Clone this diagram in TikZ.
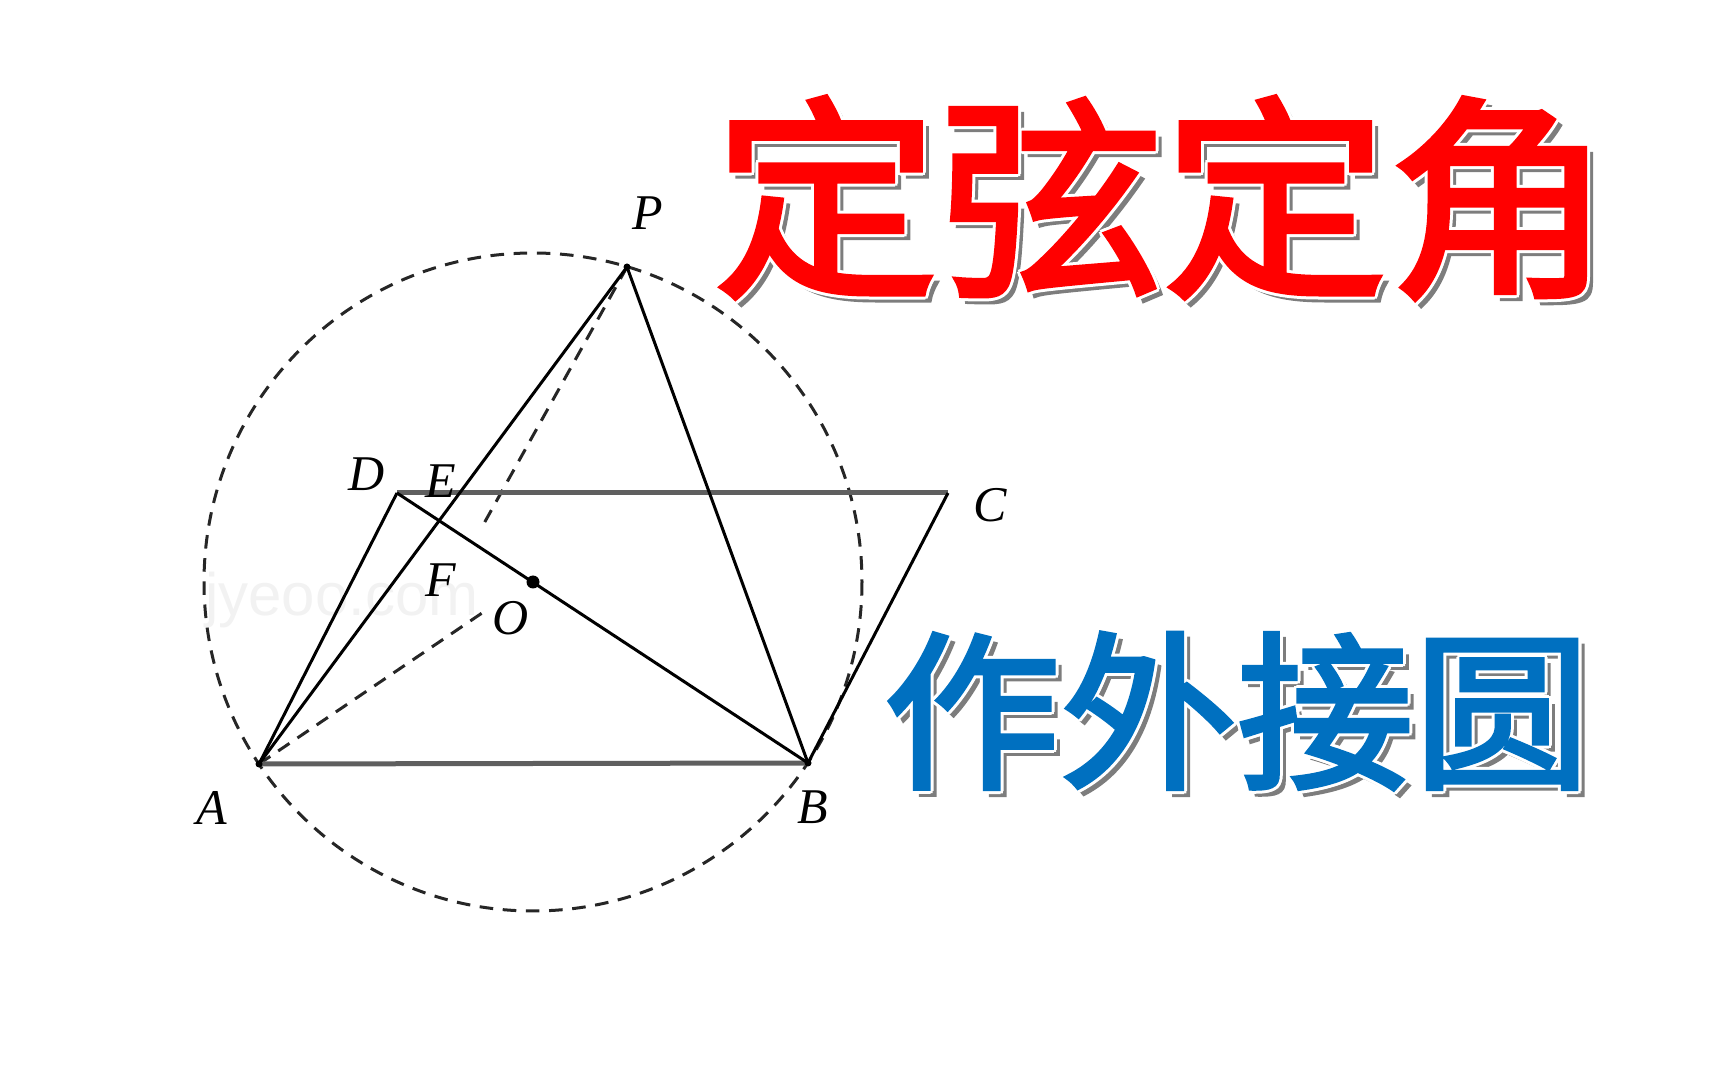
\documentclass[tikz,border=0pt]{standalone}
\usepackage{fontspec}
\setmainfont{Liberation Serif}
\setsansfont{Liberation Sans}
\newfontfamily\cjk{Noto Sans CJK SC}[FakeBold=2.5]

\definecolor{titlered}{RGB}{255,0,0}
\definecolor{titleblue}{RGB}{0,112,192}
\definecolor{shadowgray}{RGB}{125,125,125}
\definecolor{sidegray}{RGB}{95,95,95}

\tikzset{
  ptlabel/.style={font=\itshape\fontsize{12.5}{14}\selectfont, inner sep=0pt},
  seg/.style={line width=0.75pt, black},
  sideseg/.style={line width=1.25pt, sidegray},
  auxseg/.style={line width=0.75pt, black!85, dash pattern=on 3.4pt off 2.4pt},
  dotpt/.style={fill=black, draw=none},
  bigword/.style={font=\cjk\fontsize{#1}{#1}\selectfont, inner sep=0pt},
}
\newcommand{\widen}[1]{\scalebox{1.04}[1]{#1}}

\begin{document}
\begin{tikzpicture}[x=0.25pt,y=0.25pt,yscale=-1,xscale=1]
\useasboundingbox (0,0) rectangle (1728,1080);

% Points
\coordinate (A) at (259,764);
\coordinate (B) at (808,763);
\coordinate (C) at (948,493);
\coordinate (D) at (397,493);
\coordinate (P) at (627,267);
\coordinate (O) at (533,582);
\coordinate (a1) at (485,611);
\coordinate (p1) at (482,527);

% Watermark
\node [font=\sffamily\fontsize{15}{15}\selectfont, text=black!5, inner sep=0pt] (wm) at (342,600) {jyeoo.com};

% Circle
\draw [auxseg] (O) circle [radius=329];

% Dashed lines
\draw [auxseg] (A) -- (a1);
\draw [auxseg] (P) -- (p1);

% Straight Lines
\draw [sideseg] (A) -- (B);
\draw [sideseg] (D) -- (C);
\draw [seg] (A) -- (D);
\draw [seg] (B) -- (C);
\draw [seg] (A) -- (P);
\draw [seg] (P) -- (B);
\draw [seg] (D) -- (B);

% Dots
\fill [dotpt] (A) circle [radius=3.5];
\fill [dotpt] (B) circle [radius=3.5];
\fill [dotpt] (P) circle [radius=3.5];
\fill [dotpt] (O) circle [radius=6.5];

% Text Node
\node [ptlabel] (lP) at (648,213) {P};
\node [ptlabel] (lD) at (367,474) {D};
\node [ptlabel] (lE) at (441,481) {E};
\node [ptlabel] (lC) at (990,505) {C};
\node [ptlabel] (lF) at (441,580) {F};
\node [ptlabel] (lO) at (511,618) {O};
\node [ptlabel] (lA) at (212,808) {A};
\node [ptlabel] (lB) at (813,807) {B};

% Title
\node [bigword=54, text=shadowgray] (t1s) at (1169,204) {\widen{定弦定角}};
\foreach \dx/\dy [count=\i] in {-3/0,3/0,0/-3,0/3,-2.2/-2.2,2.2/-2.2,-2.2/2.2,2.2/2.2}
  \node [bigword=54, text=white] (t1w\i) at (1163+\dx,198+\dy) {\widen{定弦定角}};
\node [bigword=54, text=titlered] (t1) at (1163,198) {\widen{定弦定角}};

% Subtitle
\node [bigword=42.5, text=shadowgray] (t2s) at (1243,717) {\widen{作外接圆}};
\foreach \dx/\dy [count=\i] in {-3/0,3/0,0/-3,0/3,-2.2/-2.2,2.2/-2.2,-2.2/2.2,2.2/2.2}
  \node [bigword=42.5, text=white] (t2w\i) at (1237+\dx,711+\dy) {\widen{作外接圆}};
\node [bigword=42.5, text=titleblue] (t2) at (1237,711) {\widen{作外接圆}};

\end{tikzpicture}
\end{document}
